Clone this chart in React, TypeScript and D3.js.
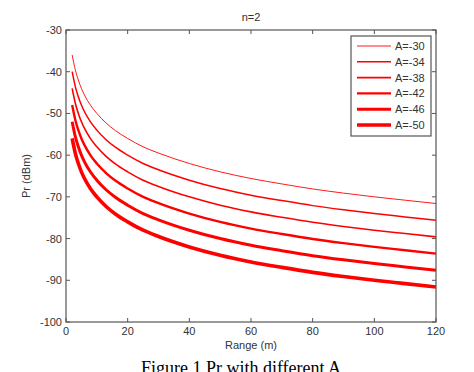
import React from 'react';
import * as d3 from 'd3';

const ranges = [2, 3, 4, 5, 6, 8, 10, 13, 16, 20, 25, 30, 40, 50, 60, 70, 80, 90, 100, 110, 120];

const prA30 = [-36.0, -39.5, -42.0, -44.0, -45.6, -48.1, -50.0, -52.3, -54.1, -56.0, -58.0, -59.5, -62.0, -64.0, -65.6, -66.9, -68.1, -69.1, -70.0, -70.8, -71.6];
const prA34 = [-40.0, -43.5, -46.0, -48.0, -49.6, -52.1, -54.0, -56.3, -58.1, -60.0, -62.0, -63.5, -66.0, -68.0, -69.6, -70.9, -72.1, -73.1, -74.0, -74.8, -75.6];
const prA38 = [-44.0, -47.5, -50.0, -52.0, -53.6, -56.1, -58.0, -60.3, -62.1, -64.0, -66.0, -67.5, -70.0, -72.0, -73.6, -74.9, -76.1, -77.1, -78.0, -78.8, -79.6];
const prA42 = [-48.0, -51.5, -54.0, -56.0, -57.6, -60.1, -62.0, -64.3, -66.1, -68.0, -70.0, -71.5, -74.0, -76.0, -77.6, -78.9, -80.1, -81.1, -82.0, -82.8, -83.6];
const prA46 = [-52.0, -55.5, -58.0, -60.0, -61.6, -64.1, -66.0, -68.3, -70.1, -72.0, -74.0, -75.5, -78.0, -80.0, -81.6, -82.9, -84.1, -85.1, -86.0, -86.8, -87.6];
const prA50 = [-56.0, -59.5, -62.0, -64.0, -65.6, -68.1, -70.0, -72.3, -74.1, -76.0, -78.0, -79.5, -82.0, -84.0, -85.6, -86.9, -88.1, -89.1, -90.0, -90.8, -91.6];

const seriesNames = ['A=-30', 'A=-34', 'A=-38', 'A=-42', 'A=-46', 'A=-50'];
const seriesValues = [prA30, prA34, prA38, prA42, prA46, prA50];
const widths = [0.9, 1.5, 1.6, 2.4, 3, 3.6];

const xTicks = [0, 20, 40, 60, 80, 100, 120];
const yTicks = [-30, -40, -50, -60, -70, -80, -90, -100];

const App = () => {
    const left = 66, right = 436, top = 30, bottom = 322;

    const x = d3.scaleLinear().domain([0, 120]).range([left, right]);
    const y = d3.scaleLinear().domain([-100, -30]).range([bottom, top]);

    const line = d3.line<number>()
        .x((d, i) => x(ranges[i]))
        .y(d => y(d))
        .curve(d3.curveMonotoneX);

    const axisColor = '#555';
    const font = 'Arial, "Liberation Sans", sans-serif';

    return (
        <svg width={474} height={372} style={{ position: 'absolute', left: 0, top: 0, background: '#fff' }}>
            <rect width={474} height={372} fill="#fff" />
            {seriesValues.map((vals, i) => (
                <path key={i} d={line(vals) || ''} fill="none" stroke="#ff0000" strokeWidth={widths[i]} strokeLinejoin="round" />
            ))}
            <rect x={left} y={top} width={right - left} height={bottom - top} fill="none" stroke={axisColor} strokeWidth={1.2} />
            {xTicks.map(t => (
                <g key={t}>
                    <line x1={x(t)} x2={x(t)} y1={bottom} y2={bottom - 4} stroke={axisColor} />
                    <line x1={x(t)} x2={x(t)} y1={top} y2={top + 4} stroke={axisColor} />
                    <text x={x(t)} y={335} textAnchor="middle" fontFamily={font} fontSize={11} fill="#333">{t}</text>
                </g>
            ))}
            {yTicks.map(t => (
                <g key={t}>
                    <line x1={left} x2={left + 4} y1={y(t)} y2={y(t)} stroke={axisColor} />
                    <line x1={right} x2={right - 4} y1={y(t)} y2={y(t)} stroke={axisColor} />
                    <text x={left - 4} y={y(t) + 4} textAnchor="end" fontFamily={font} fontSize={11} fill="#333">{t}</text>
                </g>
            ))}
            <text x={(left + right) / 2} y={21} textAnchor="middle" fontFamily={font} fontSize={11} fill="#333">n=2</text>
            <text x={(left + right) / 2} y={349} textAnchor="middle" fontFamily={font} fontSize={11} fill="#333">Range (m)</text>
            <text transform={`translate(30 ${(top + bottom) / 2}) rotate(-90)`} textAnchor="middle" fontFamily={font} fontSize={11} fill="#333">Pr (dBm)</text>
            <g>
                <rect x={351} y={36} width={80} height={100} fill="#fff" stroke={axisColor} strokeWidth={1.2} />
                {seriesNames.map((name, i) => {
                    const ly = 46 + i * 15.8;
                    return (
                        <g key={name}>
                            <line x1={357} x2={391} y1={ly} y2={ly} stroke="#ff0000" strokeWidth={widths[i]} />
                            <text x={395} y={ly + 4} fontFamily={font} fontSize={11} fill="#333">{name}</text>
                        </g>
                    );
                })}
            </g>
            <text x={241} y={374} textAnchor="middle" fontFamily='"Liberation Serif", "Times New Roman", serif' fontSize={18} fill="#000">Figure 1 Pr with different A</text>
        </svg>
    );
};

export default App;
